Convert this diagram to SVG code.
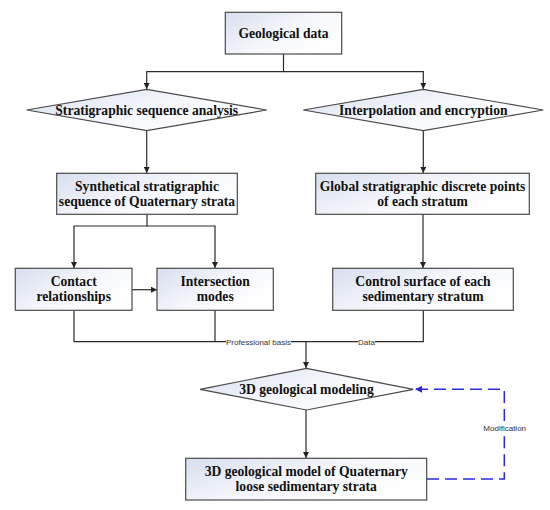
<svg xmlns="http://www.w3.org/2000/svg" width="550" height="510" viewBox="0 0 550 510">
<defs>
<linearGradient id="g" x1="0" y1="0" x2="1" y2="0.6">
<stop offset="0" stop-color="#d8deee"/>
<stop offset="0.55" stop-color="#f4f6fb"/>
<stop offset="1" stop-color="#ffffff"/>
</linearGradient>
<marker id="a" viewBox="0 0 10 10" refX="10" refY="5" markerWidth="6" markerHeight="6" markerUnits="userSpaceOnUse" orient="auto">
<path d="M0,0 L10,5 L0,10 z" fill="#222"/>
</marker>
<marker id="b" viewBox="0 0 10 10" refX="10" refY="5" markerWidth="7" markerHeight="7" markerUnits="userSpaceOnUse" orient="auto">
<path d="M0,0 L10,5 L0,10 z" fill="#2a2ae6"/>
</marker>
</defs>
<style>
.n{fill:url(#g);stroke:#4a4a4a;stroke-width:1.2}
.t{font-family:"Liberation Serif","Times New Roman",serif;font-weight:bold;font-size:13.6px;fill:#111;text-anchor:middle}
.c{fill:none;stroke:#2a2a2a;stroke-width:1.2}
.l{font-family:"Liberation Sans",Arial,sans-serif;font-size:8px;fill:#333;text-anchor:middle}
.d{fill:none;stroke:#2a2ae6;stroke-width:1.5;stroke-dasharray:12 6}
</style>
<rect width="550" height="510" fill="#fff"/>
<g id="connectors">
<path class="c" d="M283.5,54 V71.7 H146.7 V89" marker-end="url(#a)"/>
<path class="c" d="M283.5,71.7 H423.3 V89" marker-end="url(#a)"/>
<path class="c" d="M146.7,130.7 V173" marker-end="url(#a)"/>
<path class="c" d="M423.3,130.7 V173" marker-end="url(#a)"/>
<path class="c" d="M147,214.3 V226 H74 V268" marker-end="url(#a)"/>
<path class="c" d="M147,226 H215 V268" marker-end="url(#a)"/>
<path class="c" d="M132,289.7 H157" marker-end="url(#a)"/>
<path class="c" d="M423,214.3 V268" marker-end="url(#a)"/>
<path class="c" d="M74,310.3 V341.7 H226"/>
<path class="c" d="M215,310.3 V341.7"/>
<path class="c" d="M291,341.7 H358"/>
<path class="c" d="M375,341.7 H423.3 V310.3"/>
<path class="c" d="M306,341.7 V368" marker-end="url(#a)"/>
<path class="c" d="M306,410 V458" marker-end="url(#a)"/>
<text class="l" x="258.5" y="344.6">Professional basis</text>
<text class="l" x="366.5" y="344.6">Data</text>
<path class="d" d="M427,479 H504.3 V434"/>
<path class="d" d="M504.3,421 V389.3 H415" marker-end="url(#b)"/>
<text class="l" x="504.7" y="430.5">Modification</text>
</g>
<g id="geological-data">
<rect class="n" x="225.3" y="12.3" width="116.4" height="41.7"/>
<text class="t" x="283.5" y="37.5">Geological data</text>
</g>
<g id="stratigraphic-sequence-analysis">
<polygon class="n" points="26.7,110 146.7,89.3 266.7,110 146.7,130.7"/>
<text class="t" x="146.7" y="114.5">Stratigraphic sequence analysis</text>
</g>
<g id="interpolation-encryption">
<polygon class="n" points="303.3,110 423.3,89.3 543.3,110 423.3,130.7"/>
<text class="t" x="423.3" y="114.5">Interpolation and encryption</text>
</g>
<g id="synthetical-sequence">
<rect class="n" x="56.7" y="173.3" width="180.6" height="41"/>
<text class="t" x="147" y="190.8">Synthetical stratigraphic</text>
<text class="t" x="147" y="205.8">sequence of Quaternary strata</text>
</g>
<g id="global-discrete-points">
<rect class="n" x="315.7" y="173.3" width="213.6" height="41"/>
<text class="t" x="422.5" y="190.8">Global stratigraphic discrete points</text>
<text class="t" x="422.5" y="205.8">of each stratum</text>
</g>
<g id="contact-relationships">
<rect class="n" x="15.3" y="268.3" width="116.7" height="42"/>
<text class="t" x="73.7" y="286.3">Contact</text>
<text class="t" x="73.7" y="301.3">relationships</text>
</g>
<g id="intersection-modes">
<rect class="n" x="157" y="268.3" width="116.3" height="42"/>
<text class="t" x="215.2" y="286.3">Intersection</text>
<text class="t" x="215.2" y="301.3">modes</text>
</g>
<g id="control-surface">
<rect class="n" x="332.7" y="268.3" width="180.6" height="42"/>
<text class="t" x="423" y="286.3">Control surface of each</text>
<text class="t" x="423" y="301.3">sedimentary stratum</text>
</g>
<g id="3d-modeling">
<polygon class="n" points="200,389.3 306.5,368.3 413.3,389.3 306.5,410"/>
<text class="t" x="306.5" y="394">3D geological modeling</text>
</g>
<g id="3d-model">
<rect class="n" x="185.7" y="458.3" width="241" height="41.7"/>
<text class="t" x="306.2" y="476">3D geological model of Quaternary</text>
<text class="t" x="306.2" y="491">loose sedimentary strata</text>
</g>
</svg>
